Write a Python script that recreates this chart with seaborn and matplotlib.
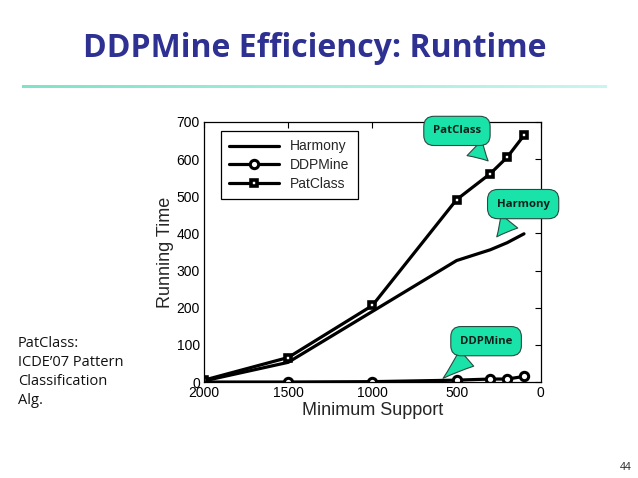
import numpy as np
import pandas as pd
import matplotlib
matplotlib.use("Agg")
import matplotlib.pyplot as plt
import seaborn as sns
from matplotlib import font_manager

# data
support = [2000, 1500, 1000, 500, 300, 200, 100]
harmony = [3, 53, 190, 327, 356, 375, 399]
ddpmine = [0, 0, 1, 5, 8, 8, 15]
patclass = [5, 66, 206, 491, 561, 605, 664]

xticks = [2000, 1500, 1000, 500, 0]
yticks = [0, 100, 200, 300, 400, 500, 600, 700]

callouts = ["PatClass", "Harmony", "DDPMine"]

df = pd.DataFrame({"support": support, "Harmony": harmony,
                   "DDPMine": ddpmine, "PatClass": patclass})

sns.set_style("white")
plt.rcParams["font.family"] = ["Liberation Sans", "DejaVu Sans"]

# a sans family that really has a bold face
names = {f.name for f in font_manager.fontManager.ttflist
         if f.weight in (700, "bold")}
slide_font = next((n for n in ["Open Sans", "Noto Sans", "Lato", "DejaVu Sans"]
                   if n in names), "DejaVu Sans")

fig = plt.figure(figsize=(6.38, 4.78), dpi=100)
ax = fig.add_axes([0.3197, 0.2008, 0.528, 0.544])

sns.lineplot(data=df, x="support", y="Harmony", ax=ax, color="black",
             lw=2.3, label="Harmony")
sns.lineplot(data=df, x="support", y="DDPMine", ax=ax, color="black",
             lw=2.3, marker="o", ms=6, mfc="white", mec="black", mew=2.2,
             label="DDPMine")
sns.lineplot(data=df, x="support", y="PatClass", ax=ax, color="black",
             lw=2.3, marker="s", ms=5, mfc="white", mec="black", mew=2.6,
             label="PatClass")

ax.set_xlim(2000, 0)
ax.set_ylim(0, 700)
ax.set_xticks(xticks)
ax.set_yticks(yticks)
ax.tick_params(direction="in", top=True, right=True, length=4,
               labelsize=10, colors="black", pad=3)
for s in ax.spines.values():
    s.set_color("black")
    s.set_linewidth(0.9)
ax.set_xlabel("Minimum Support", fontsize=13, labelpad=1)
ax.set_ylabel("Running Time", fontsize=13, labelpad=2)

leg = ax.legend(loc="upper left", bbox_to_anchor=(0.05, 0.965),
                borderaxespad=0, fancybox=False, framealpha=1,
                edgecolor="black", fontsize=10, handlelength=3.6,
                labelspacing=0.35, borderpad=0.6)
leg.get_frame().set_linewidth(0.9)

# callout bubbles
teal = "#1ae3aa"
bubble = dict(boxstyle="round,pad=0.8,rounding_size=0.9", fc=teal,
              ec="#2a4a40", lw=0.8)
arrow = dict(arrowstyle="wedge,tail_width=1.9,shrink_factor=0.45", fc=teal,
             ec="#2a4a40", lw=0.8)
text_pos = {"PatClass": (498, 676), "Harmony": (105, 479), "DDPMine": (325, 110)}
tip_pos = {"PatClass": (301, 590), "Harmony": (272, 385), "DDPMine": (593, 5)}
for name in callouts:
    ax.annotate(name, xy=tip_pos[name], xytext=text_pos[name],
                ha="center", va="center", fontsize=8.2, fontweight="bold",
                family=[slide_font, "DejaVu Sans"], color="#10201a",
                bbox=bubble, arrowprops=arrow, annotation_clip=False,
                zorder=10)

# slide furniture
fig.text(0.494, 0.898, "DDPMine Efficiency: Runtime", ha="center",
         va="center", fontsize=23, fontweight="bold", color="#2e3192",
         family=[slide_font, "DejaVu Sans"])
grad = np.linspace(0, 1, 256).reshape(1, -1)
cmap = matplotlib.colors.LinearSegmentedColormap.from_list(
    "bar", ["#7fe3c8", "#c8f6f0"])
gax = fig.add_axes([22 / 638, 1 - 88 / 478, 585 / 638, 3 / 478])
gax.imshow(grad, aspect="auto", cmap=cmap)
gax.axis("off")

fig.text(18 / 638, 1 - 372 / 478,
         "PatClass:\nICDE\u201907 Pattern\nClassification\nAlg.",
         ha="left", va="center", fontsize=10.5, linespacing=1.35,
         family=[slide_font, "DejaVu Sans"], color="#111111")
fig.text(632 / 638, 1 - 467 / 478, "44", ha="right", va="center",
         fontsize=7.5, family=[slide_font, "DejaVu Sans"], color="#222222")

fig.savefig("out.png", dpi=100)
